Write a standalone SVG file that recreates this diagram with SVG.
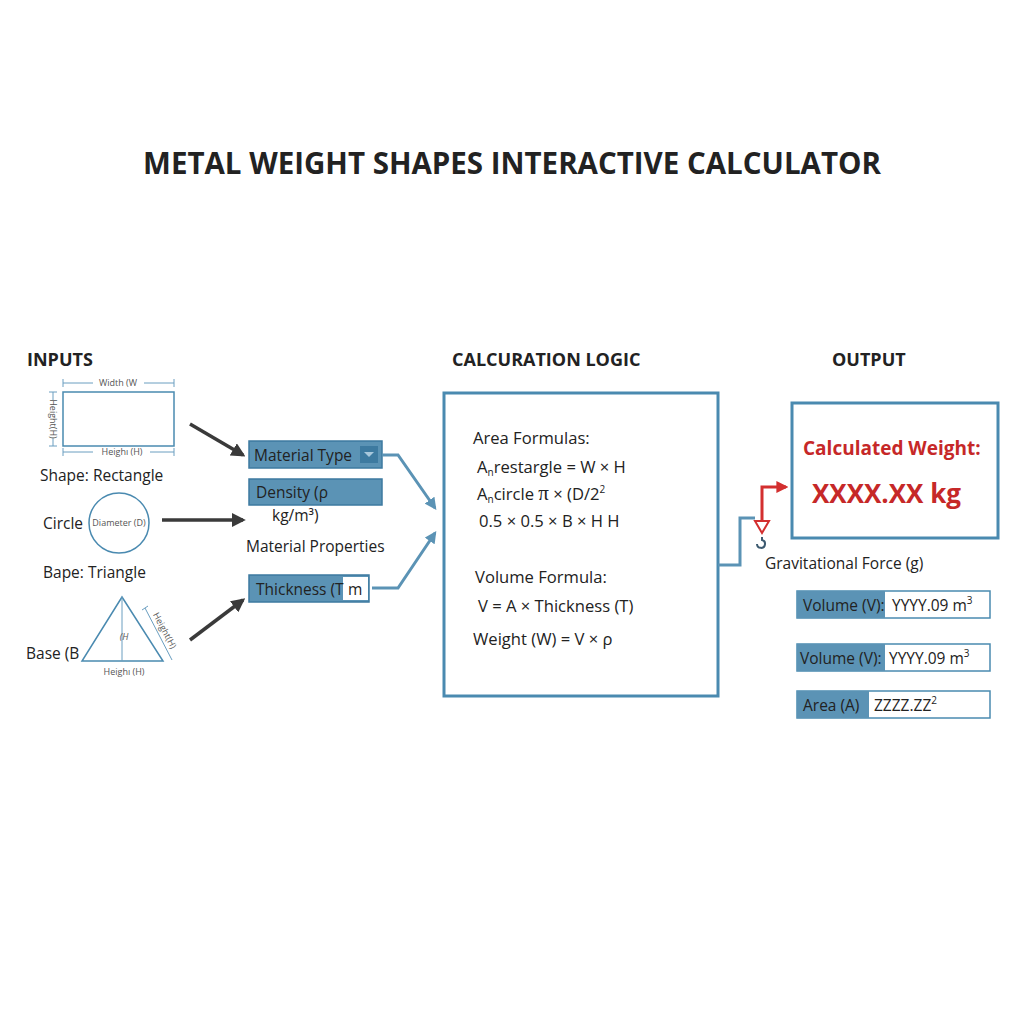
<svg xmlns="http://www.w3.org/2000/svg" width="1024" height="1024" viewBox="0 0 1024 1024">
<style>
text{font-family:"Open Sans","Noto Sans",sans-serif;fill:#222}
.h{font-weight:bold;font-size:18px}
.t{font-size:15.5px}
.s{font-size:9px;fill:#555}
.f{font-size:16.6px}
.thin{fill:none;stroke:#4a8ab0;stroke-width:1.5}
.dim{fill:none;stroke:#6a9ec0;stroke-width:1}
.fld{fill:#5b93b5;stroke:#3d7aa0;stroke-width:1.5}
.box{fill:#fff;stroke:#4a8ab0;stroke-width:3}
.dark{stroke:#3a3a3a;stroke-width:3.5;fill:none}
.blue{stroke:#5b93b5;stroke-width:3;fill:none}
.red{font-weight:bold;fill:#c62828}
</style>
<defs>
<marker id="ad" viewBox="0 0 10 10" refX="8" refY="5" markerWidth="4" markerHeight="4" orient="auto"><path d="M0,0L10,5L0,10z" fill="#3a3a3a"/></marker>
<marker id="ab" viewBox="0 0 10 10" refX="8" refY="5" markerWidth="4" markerHeight="4" orient="auto"><path d="M0,0L10,5L0,10z" fill="#5b93b5"/></marker>
<marker id="ar" viewBox="0 0 10 10" refX="8" refY="5" markerWidth="4" markerHeight="4" orient="auto"><path d="M0,0L10,5L0,10z" fill="#d32f2f"/></marker>
</defs>
<rect width="1024" height="1024" fill="#fff"/>
<text x="512" y="174" text-anchor="middle" style="font-weight:bold;font-size:29.5px">METAL WEIGHT SHAPES INTERACTIVE CALCULATOR</text>
<text class="h" x="27" y="366">INPUTS</text>
<text class="h" x="452" y="366">CALCURATION LOGIC</text>
<text class="h" x="832" y="366">OUTPUT</text>

<g id="rectangle">
<rect class="thin" x="63" y="392" width="111" height="54"/>
<path class="dim" d="M63,379v8M174,379v8M63,383h30M144,383h30M63,448v8M174,448v8M63,452h30M150,452h24M49,392h8M49,446h8M53,392v8M53,438v8"/>
<text class="s" x="118" y="386" text-anchor="middle">Width (W</text>
<text class="s" x="122" y="455" text-anchor="middle">Heighı (H)</text>
<text class="s" transform="translate(50,419) rotate(90)" text-anchor="middle">Height(H)</text>
<text class="t" x="40" y="481">Shape: Rectangle</text>
</g>
<g id="circle">
<circle class="thin" cx="119" cy="523" r="30"/>
<text class="s" x="119" y="526" text-anchor="middle">Diameter (D)</text>
<text class="t" x="43" y="529">Circle</text>
<text class="t" x="43" y="578">Bape: Triangle</text>
</g>
<g id="triangle">
<path class="thin" d="M122,597L82,661H163Z"/>
<path class="dim" d="M122,597V661M145,608L172,660M142,610l6,-4"/>
<text class="s" x="124" y="640" text-anchor="middle" style="font-style:italic">(H</text>
<text class="s" transform="translate(162,632) rotate(62)" text-anchor="middle">Height(H)</text>
<text class="s" x="124" y="675" text-anchor="middle">Heighı (H)</text>
<text class="t" x="26" y="659">Base (B</text>
</g>

<g id="material">
<rect class="fld" x="249" y="441" width="133" height="27"/>
<text class="t" x="254" y="461">Material Type</text>
<rect x="360" y="446" width="18" height="17" fill="#3d7aa0"/>
<path d="M364,452h10l-5,5z" fill="#a8c8dc"/>
<rect class="fld" x="249" y="479" width="133" height="26"/>
<text class="t" x="256" y="498">Density (ρ</text>
<text class="t" x="272" y="521">kg/m³)</text>
<text class="t" x="246" y="552">Material Properties</text>
<rect class="fld" x="249" y="575" width="120" height="27"/>
<rect x="343" y="577" width="25" height="23" fill="#fff"/>
<text class="t" x="256" y="595">Thickness (T</text>
<text class="t" x="348" y="595">m</text>
</g>

<g id="logic">
<rect class="box" x="444" y="393" width="274" height="303"/>
<text class="f" x="473" y="444">Area Formulas:</text>
<text class="f" x="477" y="473">A<tspan font-size="10" dy="3">n</tspan><tspan dy="-3">restargle = W × H</tspan></text>
<text class="f" x="477" y="500">A<tspan font-size="10" dy="3">n</tspan><tspan dy="-3">circle  </tspan><tspan font-family="Liberation Serif" font-size="21">π</tspan> × (D/2<tspan font-size="10" dy="-7">2</tspan></text>
<text class="f" x="479" y="527">0.5 × 0.5 × B × H H</text>
<text class="f" x="475" y="583">Volume Formula:</text>
<text class="f" x="478" y="612">V = A × Thickness (T)</text>
<text class="f" x="473" y="645">Weight (W) = V × ρ</text>
</g>

<g id="output">
<rect class="box" x="792" y="403" width="206" height="135"/>
<text class="red" x="803" y="455" font-size="19">Calculated Weight:</text>
<text class="red" x="812" y="503" font-size="26">XXXX.XX kg</text>
<text class="t" x="765" y="569">Gravitational Force (g)</text>
<path d="M755,521h14l-7,12z" fill="#fff" stroke="#d32f2f" stroke-width="2"/>
<path d="M762,537v3a4,4 0 1 1 -5,4" fill="none" stroke="#3d5a70" stroke-width="2"/>
</g>

<g id="results">
<rect x="797" y="591" width="193" height="27" fill="#fff" stroke="#4a8ab0" stroke-width="1.5"/>
<rect x="797" y="591" width="88" height="27" fill="#5b93b5"/>
<text class="t" x="803" y="611">Volume (V):</text>
<text class="t" x="892" y="611">YYYY.09 m<tspan font-size="10" dy="-7">3</tspan></text>
<rect x="797" y="644" width="193" height="27" fill="#fff" stroke="#4a8ab0" stroke-width="1.5"/>
<rect x="797" y="644" width="88" height="27" fill="#5b93b5"/>
<text class="t" x="800" y="664">Volume (V):</text>
<text class="t" x="889" y="664">YYYY.09 m<tspan font-size="10" dy="-7">3</tspan></text>
<rect x="797" y="691" width="193" height="27" fill="#fff" stroke="#4a8ab0" stroke-width="1.5"/>
<rect x="797" y="691" width="72" height="27" fill="#5b93b5"/>
<text class="t" x="803" y="711">Area (A)</text>
<text class="t" x="874" y="711">ZZZZ.ZZ<tspan font-size="10" dy="-7">2</tspan></text>
</g>

<g id="connectors">
<path class="dark" marker-end="url(#ad)" d="M190,424L243,455"/>
<path class="dark" marker-end="url(#ad)" d="M162,520H243"/>
<path class="dark" marker-end="url(#ad)" d="M190,640L243,600"/>
<path class="blue" marker-end="url(#ab)" d="M382,455H398L435,508"/>
<path class="blue" marker-end="url(#ab)" d="M372,588H398L435,533"/>
<path class="blue" d="M718,565H740V518H755"/>
<path stroke="#d32f2f" stroke-width="3" fill="none" marker-end="url(#ar)" d="M762,521V487H786"/>
</g>
</svg>
